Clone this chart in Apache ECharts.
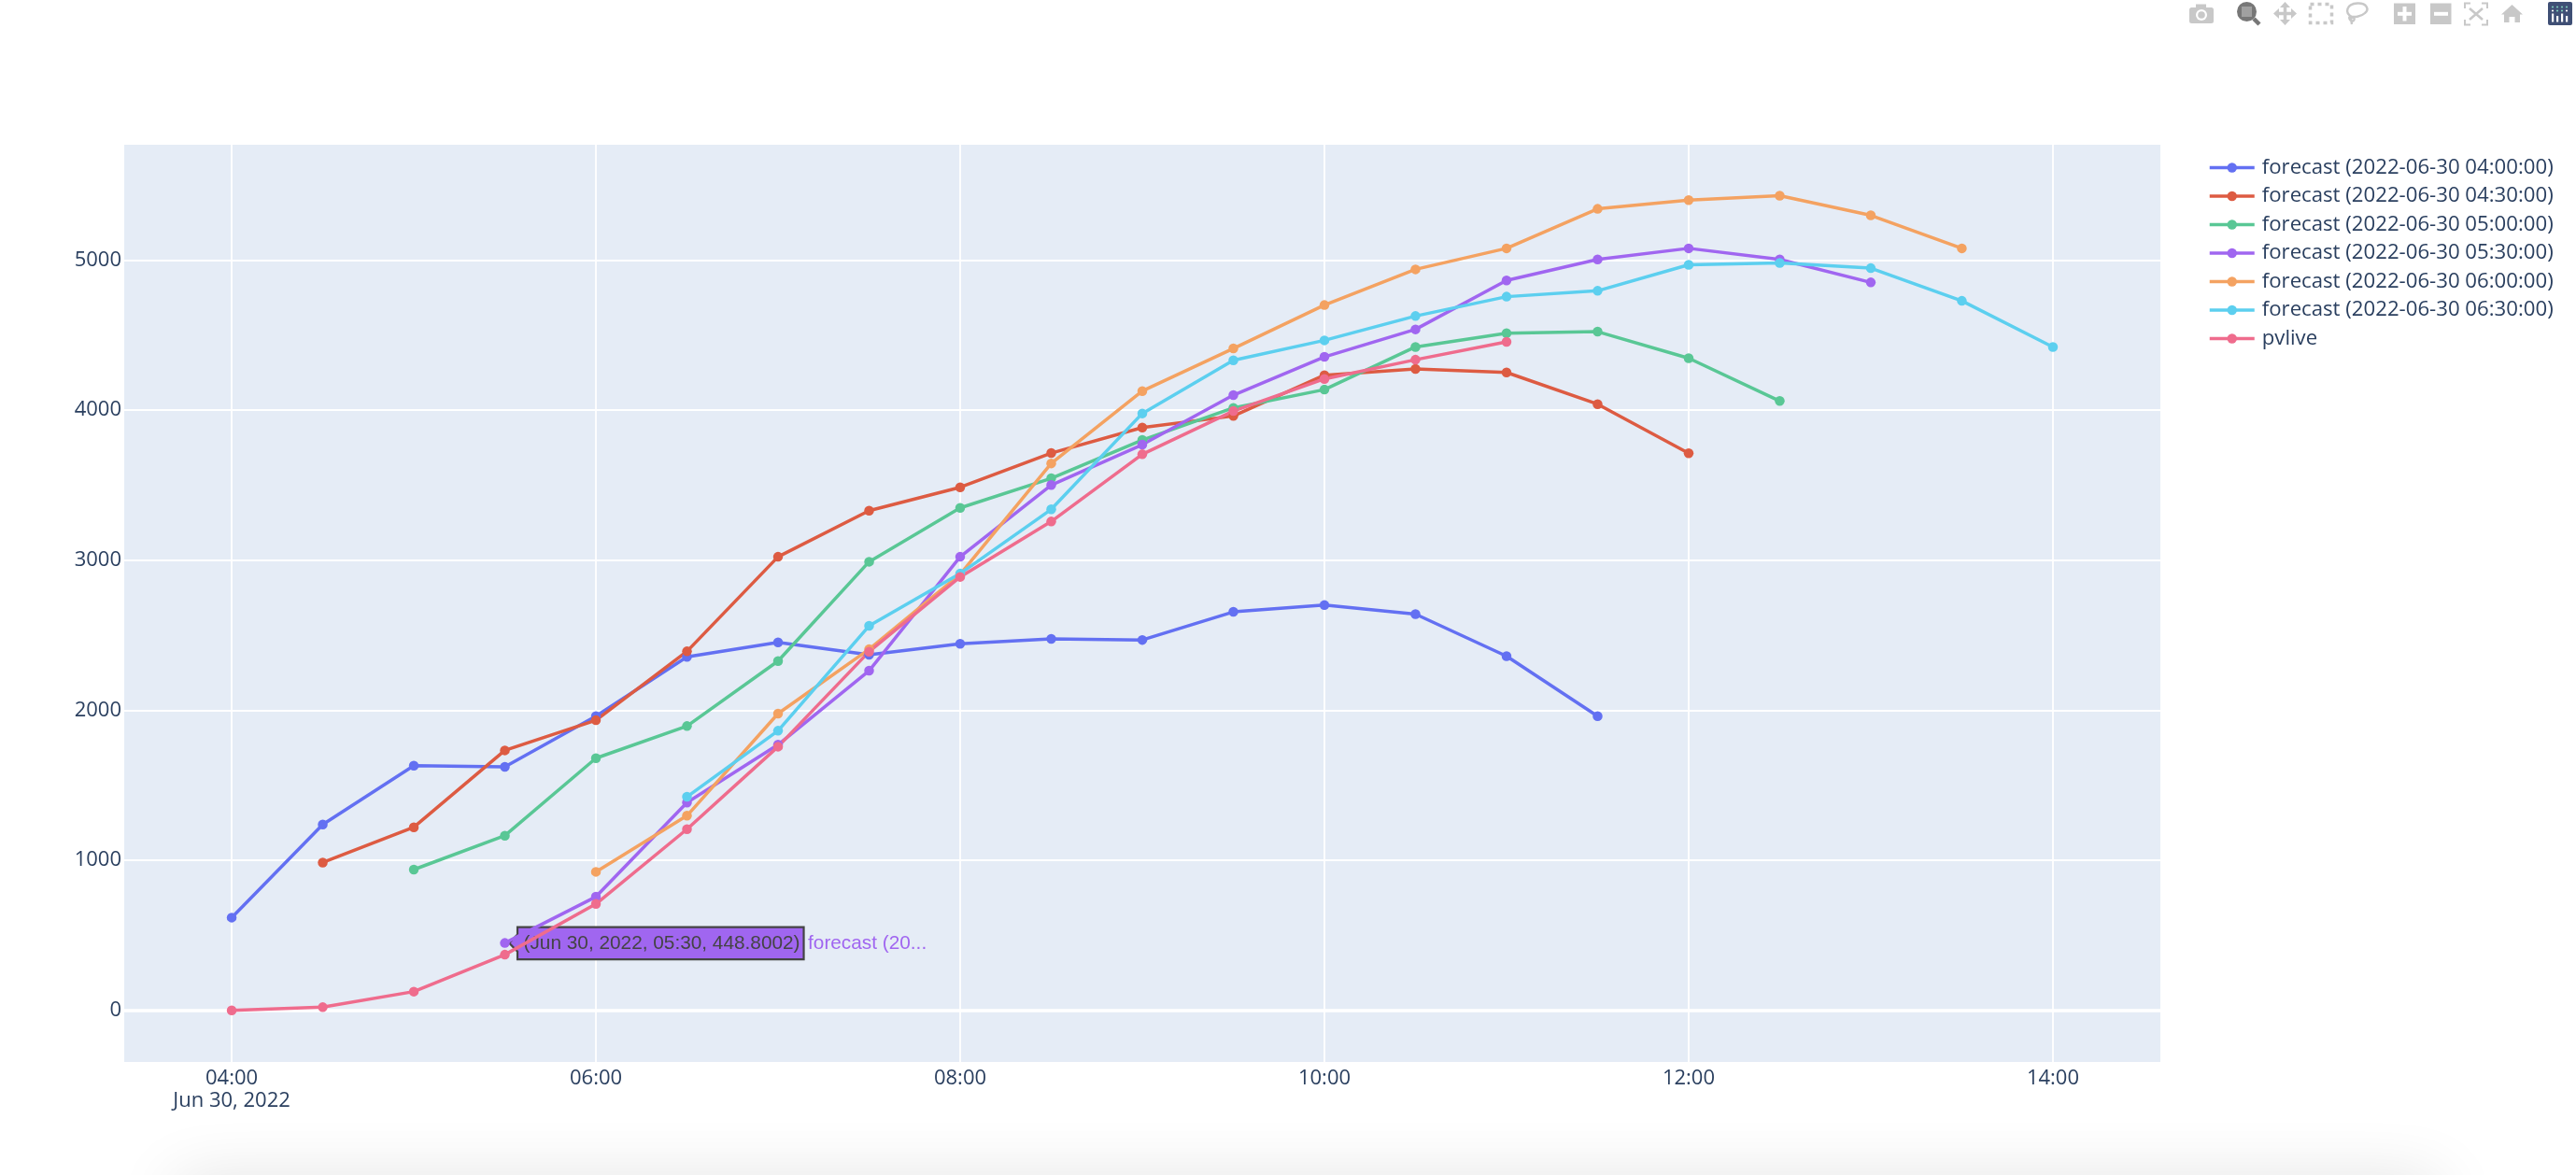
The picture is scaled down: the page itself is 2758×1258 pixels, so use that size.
<!DOCTYPE html>
<html>
<head>
<meta charset="utf-8">
<title>forecast vs pvlive</title>
<style>
html, body { margin: 0; padding: 0; background: #fff; }
#chart { width: 2758px; height: 1258px; }
</style>
<script src="https://cdn.jsdelivr.net/npm/echarts@6/dist/echarts.min.js"></script>
</head>
<body>
<div id="chart"></div>
<script>
var timeSlots = [
    '2022-06-30 04:00:00', '2022-06-30 04:30:00', '2022-06-30 05:00:00', '2022-06-30 05:30:00',
    '2022-06-30 06:00:00', '2022-06-30 06:30:00', '2022-06-30 07:00:00', '2022-06-30 07:30:00',
    '2022-06-30 08:00:00', '2022-06-30 08:30:00', '2022-06-30 09:00:00', '2022-06-30 09:30:00',
    '2022-06-30 10:00:00', '2022-06-30 10:30:00', '2022-06-30 11:00:00', '2022-06-30 11:30:00',
    '2022-06-30 12:00:00', '2022-06-30 12:30:00', '2022-06-30 13:00:00', '2022-06-30 13:30:00',
    '2022-06-30 14:00:00'
];
var xTicks = ['2022-06-30 04:00:00', '2022-06-30 06:00:00', '2022-06-30 08:00:00',
    '2022-06-30 10:00:00', '2022-06-30 12:00:00', '2022-06-30 14:00:00'];
var yTicks = [0, 1000, 2000, 3000, 4000, 5000];

var forecast0400 = [618, 1238, 1630, 1622, 1960, 2355, 2452, 2369, 2442, 2475, 2468, 2655, 2700, 2640, 2360, 1960];
var forecast0430 = [985, 1220, 1732, 1933, 2392, 3022, 3329, 3485, 3713, 3883, 3960, 4232, 4273, 4250, 4039, 3712];
var forecast0500 = [938, 1164, 1680, 1894, 2327, 2989, 3348, 3545, 3800, 4014, 4136, 4420, 4512, 4522, 4345, 4060];
var forecast0530 = [448.8002, 757, 1384, 1770, 2263, 3022, 3500, 3769, 4099, 4354, 4537, 4863, 5003, 5077, 5003, 4850];
var forecast0600 = [923, 1297, 1977, 2406, 2905, 3644, 4126, 4410, 4699, 4937, 5077, 5340, 5398, 5428, 5297, 5077];
var forecast0630 = [1423, 1863, 2562, 2910, 3338, 3977, 4331, 4464, 4626, 4755, 4794, 4967, 4980, 4945, 4727, 4420];
var pvlive = [0, 21, 125, 371, 709, 1207, 1757, 2390, 2888, 3257, 3705, 3993, 4207, 4335, 4454];

var seriesNames = ['forecast (2022-06-30 04:00:00)', 'forecast (2022-06-30 04:30:00)', 'forecast (2022-06-30 05:00:00)',
    'forecast (2022-06-30 05:30:00)', 'forecast (2022-06-30 06:00:00)', 'forecast (2022-06-30 06:30:00)', 'pvlive'];
var seriesValues = [forecast0400, forecast0430, forecast0500, forecast0530, forecast0600, forecast0630, pvlive];
var seriesStart = [0, 1, 2, 3, 4, 5, 0];
var seriesColors = ['#6370f2', '#dd5b42', '#59c795', '#a066f0', '#f4a261', '#5ccfef', '#ef6c8d'];

var xMin = '2022-06-30 03:24:36';
var xMax = '2022-06-30 14:35:24';
var yMin = -344;
var yMax = 5767;

var hoverIndex = 0; // first point of forecast 05:30
var hoverSeries = 3;
var hoverText = '(Jun 30, 2022, 05:30, 448.8002)';
var hoverName = 'forecast (20...';

var textColor = '#2a3f5f';
var plotBg = '#e5ecf6';

function toMs(s) {
    return new Date(s.replace(' ', 'T')).getTime();
}

var myChart = echarts.init(document.getElementById('chart'));

function _buildSeries() {
    return seriesNames.map(function (name, i) {
        return {
            name: name,
            type: 'line',
            data: seriesValues[i].map(function (v, j) {
                return [toMs(timeSlots[seriesStart[i] + j]), v];
            }),
            symbol: 'circle',
            symbolSize: 10.5,
            showAllSymbol: true,
            lineStyle: { color: seriesColors[i], width: 3.5 },
            itemStyle: { color: seriesColors[i] },
            emphasis: { disabled: true },
            animation: false
        };
    });
}

function _plotFigure() {
    let option = {
        backgroundColor: '#fff',
        textStyle: { fontFamily: '"Open Sans", sans-serif' },
        grid: {
            left: 133,
            top: 155,
            width: 2180,
            height: 982,
            containLabel: false,
            show: true,
            backgroundColor: plotBg,
            borderWidth: 0
        },
        legend: {
            data: seriesNames,
            orient: 'vertical',
            left: 2364,
            top: 168.5,
            padding: 0,
            itemWidth: 48,
            itemHeight: 13,
            itemGap: 8.5,
            selectedMode: false,
            lineStyle: { width: 3.5 },
            textStyle: {
                color: textColor,
                fontSize: 22.2,
                fontFamily: '"Open Sans", sans-serif',
                padding: [0, 0, 0, 3]
            }
        },
        tooltip: { show: false },
        xAxis: [{
            type: 'value',
            min: toMs(xMin),
            max: toMs(xMax),
            axisLine: { show: false, onZero: false },
            axisTick: { show: false, customValues: xTicks.map(toMs) },
            axisLabel: {
                customValues: xTicks.map(toMs),
                color: textColor,
                fontSize: 22,
                margin: 5.5,
                lineHeight: 24,
                hideOverlap: false,
                formatter: function (v) {
                    let t = echarts.time.format(v, '{HH}:{mm}', false);
                    return v === toMs(xTicks[0]) ? t + '\nJun 30, 2022' : t;
                }
            },
            splitLine: { show: true, lineStyle: { color: '#fff', width: 1.8 } }
        }, {
            // zero line of the y axis
            type: 'value',
            min: toMs(xMin),
            max: toMs(xMax),
            axisLine: { show: true, onZero: true, lineStyle: { color: '#fff', width: 3.5 } },
            axisTick: { show: false },
            axisLabel: { show: false },
            splitLine: { show: false }
        }],
        yAxis: {
            type: 'value',
            min: yMin,
            max: yMax,
            axisLine: { show: false },
            axisTick: { show: false, customValues: yTicks },
            axisLabel: {
                customValues: yTicks,
                color: textColor,
                fontSize: 22,
                margin: 3,
                padding: [2, 0, 0, 0],
                formatter: function (v) { return String(v); }
            },
            splitLine: { show: true, lineStyle: { color: '#fff', width: 1.8 } }
        },
        series: _buildSeries()
    };

    myChart.setOption(option);
}

// hover label stuck on the purple point, placed from the axes
function _hoverLabel() {
    let p = myChart.convertToPixel({ xAxisIndex: 0, yAxisIndex: 0 },
        [toMs(timeSlots[seriesStart[hoverSeries] + hoverIndex]), seriesValues[hoverSeries][hoverIndex]]);
    let x = p[0], y = p[1];
    return {
        type: 'group',
        z: 100,
        children: [{
            type: 'polygon',
            shape: { points: [[x + 4.5, y], [x + 13.5, y - 9], [x + 13.5, y - 17], [x + 320, y - 17], [x + 320, y + 17.5], [x + 13.5, y + 17.5], [x + 13.5, y + 9]] },
            style: { fill: seriesColors[hoverSeries], stroke: '#444', lineWidth: 2.2 }
        }, {
            type: 'text',
            style: { x: x + 20, y: y + 0.5, text: hoverText, fill: '#444', fontSize: 20.8, fontFamily: '"Liberation Sans", Arial', verticalAlign: 'middle', align: 'left' }
        }, {
            type: 'text',
            style: { x: x + 324.5, y: y + 0.5, text: hoverName, fill: seriesColors[hoverSeries], fontSize: 20.8, fontFamily: '"Liberation Sans", Arial', verticalAlign: 'middle', align: 'left' }
        }]
    };
}

// graphic has no free path element, so the icon outlines get registered as shapes
var shapeCount = 0;
function _pathShape(d) {
    let name = 'modebarShape' + (shapeCount++);
    echarts.graphic.registerShape(name, echarts.graphic.extendPath(d, {}));
    return name;
}

// plotly modebar, grey icons top right
function _modebar() {
    let grey = '#c8c8c8';
    let dark = '#777777';
    let navy = '#3f4f75';
    let line = function (d, color, w, extra) {
        return { type: _pathShape(d), style: Object.assign({ fill: 'none', stroke: color, lineWidth: w }, extra || {}) };
    };
    let fill = function (d, color) {
        return { type: _pathShape(d), style: { fill: color, stroke: 'none' } };
    };
    let rect = function (x, y, w, h, color) {
        return { type: 'rect', shape: { x: x, y: y, width: w, height: h }, style: { fill: color } };
    };
    let circle = function (x, y, r, color) {
        return { type: 'circle', shape: { cx: x, cy: y, r: r }, style: { fill: color } };
    };
    let items = [
        // camera
        { type: 'rect', shape: { x: 2344, y: 8, width: 26, height: 17, r: 2.5 }, style: { fill: grey } },
        rect(2351, 4.5, 11, 4, grey),
        circle(2357, 16, 6, '#fff'),
        circle(2357, 16, 3.8, grey),
        // zoom
        circle(2405.5, 12.5, 10.5, dark),
        rect(2400, 7, 11, 11, '#a0a0a0'),
        line('M2413 20 L2419 26', dark, 4.5),
        // pan
        line('M2446.5 5 V24 M2437 14.5 H2456', grey, 3.5),
        fill('M2446.5 2 L2452 8 H2441 Z M2446.5 27 L2452 21 H2441 Z M2434 14.5 L2440 9 V20 Z M2459 14.5 L2453 9 V20 Z', grey),
        // box select
        line('M2473.5 4.5 H2496.5 V24.5 H2473.5 Z', grey, 3.5, { lineDash: [4, 4] }),
        // lasso
        line('M2518 18 C2510 14 2512 4 2524 3.5 C2534 3 2537 10 2532 14 C2528 18 2520 19 2516 17 M2516 17 C2514 20 2517 24 2520 22 C2522 20 2519 17 2517 20 L2518 26', grey, 2.4),
        // zoom in
        rect(2563, 3.5, 23, 22.5, grey),
        rect(2572.5, 7, 4, 15.5, '#fff'),
        rect(2567, 12.8, 15, 4, '#fff'),
        // zoom out
        rect(2602, 3.5, 22.5, 22.5, grey),
        rect(2606, 12.8, 15, 4, '#fff'),
        // autoscale
        line('M2639 9 V3.5 H2645 M2657 3.5 H2663 V9 M2663 21 V26.5 H2657 M2645 26.5 H2639 V21', grey, 2),
        line('M2644 9 L2658 21 M2658 9 L2644 21', grey, 2.6),
        // home
        fill('M2689.5 5 L2701 15.5 H2698 V24 H2692.5 V18 H2686.5 V24 H2681 V15.5 H2678 Z', grey),
        // plotly logo
        { type: 'rect', shape: { x: 2728, y: 2, width: 26, height: 25, r: 2 }, style: { fill: navy } }
    ];
    [2733, 2738, 2743, 2748].forEach(function (bx, i) {
        items.push(circle(bx, 7.5, 1.1, '#7fcdbb'));
        items.push(circle(bx, 11.5, 1.1, i === 1 || i === 2 ? '#7fcdbb' : '#fff'));
        items.push(rect(bx - 1, i % 2 ? 17 : 14.5, 2.2, i % 2 ? 6.5 : 9, '#fff'));
    });
    return items;
}

_plotFigure();
myChart.setOption({
    graphic: [{
        // soft shadow at the lower page edge
        type: 'rect',
        z: -1,
        shape: { x: 190, y: 1268, width: 2420, height: 40 },
        style: { fill: '#ddd', shadowBlur: 70, shadowColor: 'rgba(0,0,0,0.16)' }
    }, _hoverLabel()].concat(_modebar())
});
</script>
</body>
</html>
